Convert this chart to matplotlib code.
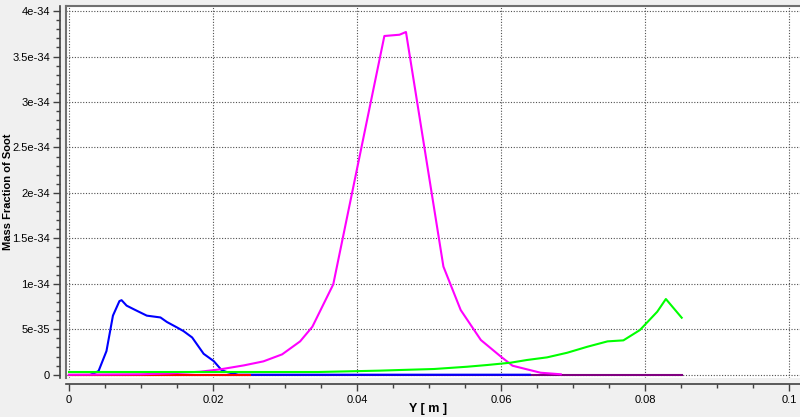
import matplotlib
matplotlib.use("Agg")
import matplotlib.pyplot as plt
from matplotlib.ticker import MultipleLocator, FixedFormatter, FixedLocator
from matplotlib.lines import Line2D

plt.rcParams['font.family'] = ['Liberation Sans', 'DejaVu Sans']

# soot mass fraction along Y, values in units of 1e-34
blue_x = [0.0030, 0.0041, 0.0052, 0.0061, 0.0070, 0.0073, 0.0080, 0.0090, 0.0108, 0.0127,
          0.0136, 0.0150, 0.0159, 0.0171, 0.0187, 0.0201, 0.0212, 0.0219, 0.0235, 0.0640]
blue_y = [0.0, 0.04, 0.26, 0.65, 0.81, 0.82, 0.76, 0.72, 0.65, 0.63,
          0.58, 0.52, 0.48, 0.41, 0.23, 0.15, 0.05, 0.03, 0.0, 0.0]

magenta_x = [0.0, 0.0100, 0.0140, 0.0182, 0.0210, 0.0243, 0.0270, 0.0296, 0.0321, 0.0338,
             0.0367, 0.0438, 0.0459, 0.0468, 0.0520, 0.0544, 0.0572, 0.0600, 0.0616,
             0.0655, 0.0683]
magenta_y = [0.0, 0.005, 0.015, 0.033, 0.059, 0.103, 0.147, 0.224, 0.367, 0.528,
             0.994, 3.726, 3.74, 3.77, 1.19, 0.712, 0.382, 0.198, 0.099,
             0.022, 0.005]

green_x = [0.0, 0.0346, 0.0432, 0.0460, 0.0507, 0.0553, 0.0581, 0.0613, 0.0636, 0.0664,
           0.0692, 0.0720, 0.0748, 0.0770, 0.0793, 0.0817, 0.0829, 0.0851]
green_y = [0.03, 0.03, 0.045, 0.052, 0.063, 0.088, 0.107, 0.132, 0.162, 0.191,
           0.242, 0.308, 0.367, 0.378, 0.492, 0.693, 0.833, 0.627]

red_x = [0.0, 0.0252]
red_y = [0.0, 0.0]

purple_x = [0.0, 0.0851]
purple_y = [0.0, 0.0]

scale = 1e-34

y_ticks = [0, 0.5e-34, 1e-34, 1.5e-34, 2e-34, 2.5e-34, 3e-34, 3.5e-34, 4e-34]
y_labels = ["0", "5e-35", "1e-34", "1.5e-34", "2e-34", "2.5e-34", "3e-34", "3.5e-34", "4e-34"]
x_ticks = [0, 0.02, 0.04, 0.06, 0.08, 0.1]
x_labels = ["0", "0.02", "0.04", "0.06", "0.08", "0.1"]

bg = '#f0f0f0'
fig = plt.figure(figsize=(8, 4.17), dpi=100)
fig.patch.set_facecolor(bg)
ax = fig.add_axes([66 / 800, 39 / 417, 734 / 800, 372 / 417])
ax.set_facecolor('white')

lw = 1.5
ax.plot(purple_x, [v * scale for v in purple_y], color='#800080', lw=lw)
ax.plot(blue_x, [v * scale for v in blue_y], color='#0000ff', lw=lw)
ax.plot(red_x, [v * scale for v in red_y], color='#ff0000', lw=lw)
ax.plot(magenta_x, [v * scale for v in magenta_y], color='#ff00ff', lw=lw)
ax.plot(green_x, [v * scale for v in green_y], color='#00ff00', lw=lw)

ax.set_xlim(-0.00042, 0.10153)
ax.set_ylim(-0.036e-34, 4.056e-34)

ax.xaxis.set_major_locator(FixedLocator(x_ticks))
ax.xaxis.set_major_formatter(FixedFormatter(x_labels))
ax.xaxis.set_minor_locator(MultipleLocator(0.005))
ax.yaxis.set_major_locator(FixedLocator(y_ticks))
ax.yaxis.set_major_formatter(FixedFormatter(y_labels))
ax.yaxis.set_minor_locator(MultipleLocator(0.1e-34))

ax.grid(True, which='major', color='#505050', linestyle=(0, (1, 1.5)), lw=0.8)
ax.set_axisbelow(True)

ax.spines['right'].set_visible(False)
ax.spines['top'].set_color('#707070')
ax.spines['top'].set_linewidth(1.5)
ax.spines['left'].set_position(('outward', 4))
ax.spines['bottom'].set_position(('outward', 4))
ax.spines['left'].set_color('#404040')
ax.spines['bottom'].set_color('#404040')
ax.spines['left'].set_linewidth(1.2)
ax.spines['bottom'].set_linewidth(1.2)

ax.tick_params(which='major', length=5, width=1, color='#404040', labelsize=8,
               labelcolor='black', pad=2.5)
ax.tick_params(which='minor', length=3, width=1, color='#404040')
ax.tick_params(axis='x', which='major', pad=3)

# gray frame on left edge of white plot area
fig.add_artist(Line2D([65.5 / 800, 65.5 / 800], [39 / 417, 411 / 417],
                      transform=fig.transFigure, color='#707070', lw=1.5))

ax.set_xlabel("Y [ m ]", fontsize=9, fontweight='bold')
ax.set_ylabel("Mass Fraction of Soot", fontsize=8, fontweight='bold')
ax.xaxis.set_label_coords(0.493, -0.068)
ax.yaxis.set_label_coords(-0.0725, 0.5)

fig.savefig('out.png', dpi=100, facecolor=bg)
